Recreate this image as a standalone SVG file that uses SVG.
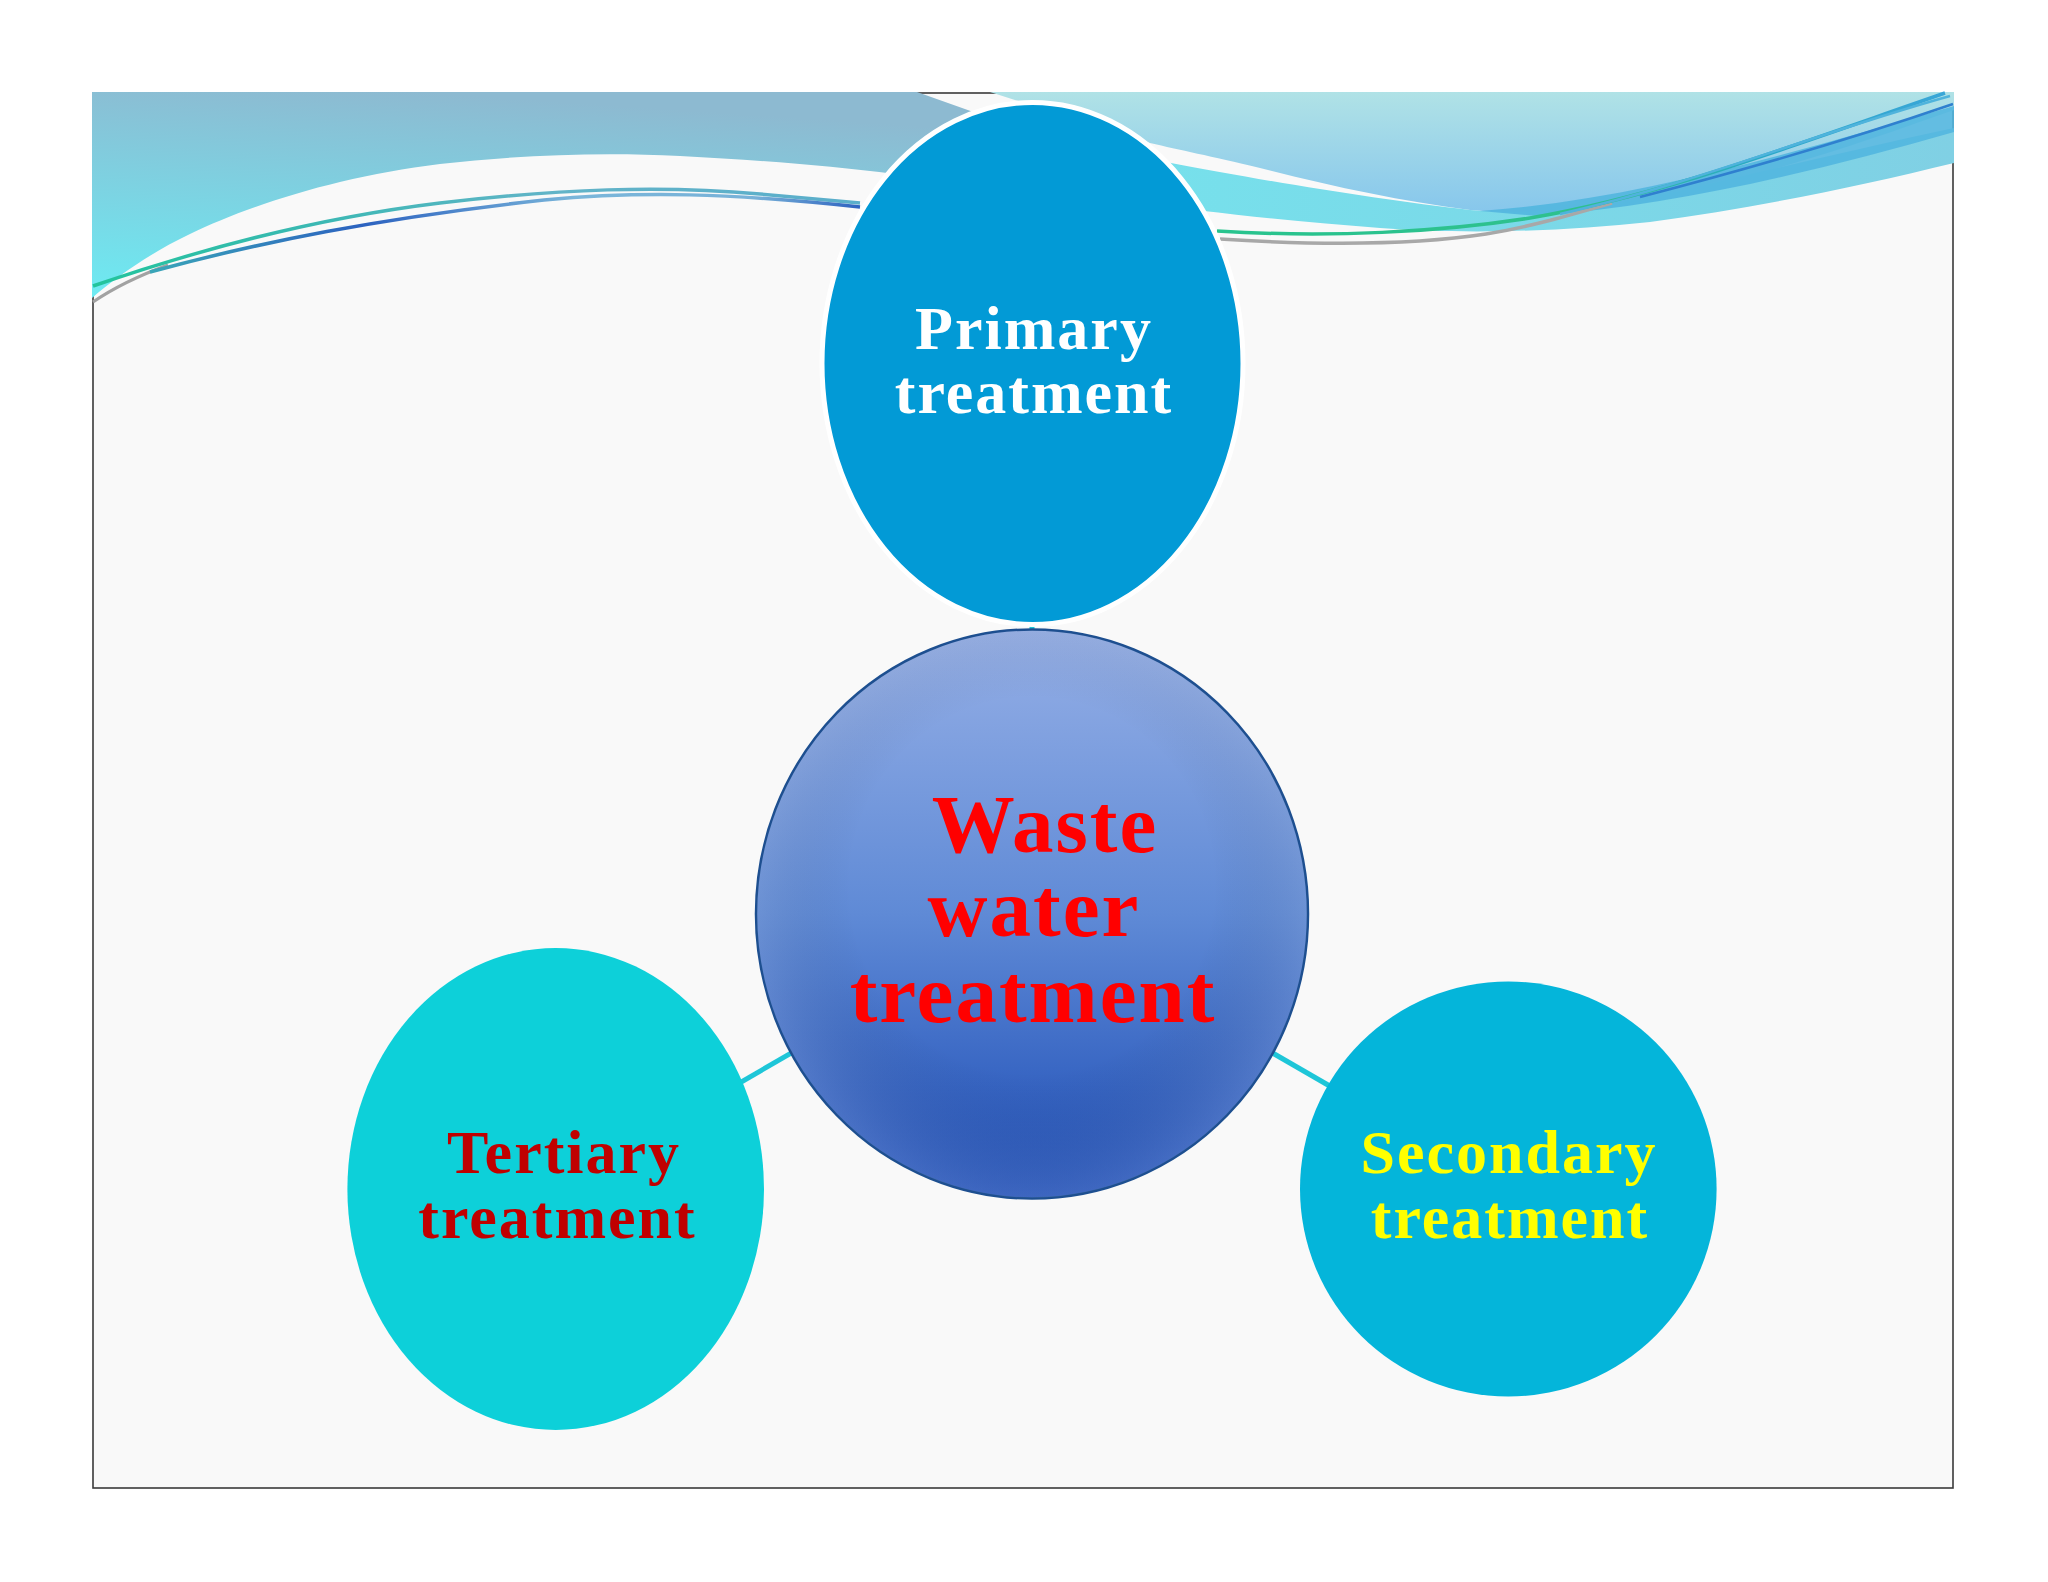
<svg xmlns="http://www.w3.org/2000/svg" width="2048" height="1582" viewBox="0 0 2048 1582">
  <style>
    .lbl { font-family: "Liberation Serif", "DejaVu Serif", serif; font-weight: bold; text-anchor: middle; }
    .small { font-size: 62px; letter-spacing: 2px; }
    .big { font-size: 83px; letter-spacing: 2px; }
    .conn { stroke: #1ec6d8; stroke-width: 5; fill: none; }
  </style>
  <defs>
    <linearGradient id="gLeftBand" x1="0.35" y1="0" x2="0.05" y2="1">
      <stop offset="0" stop-color="#8dbad1"/>
      <stop offset="1" stop-color="#6deaf2"/>
    </linearGradient>
    <linearGradient id="gRightTop" x1="0" y1="0" x2="0" y2="1">
      <stop offset="0" stop-color="#b0e2e6"/>
      <stop offset="1" stop-color="#86c6ec"/>
    </linearGradient>
    <linearGradient id="gCyanBand" x1="0" y1="0" x2="1" y2="0">
      <stop offset="0" stop-color="#76e1ec"/>
      <stop offset="1" stop-color="#80d0e4"/>
    </linearGradient>
    <linearGradient id="gCenter" x1="0" y1="0" x2="0" y2="1">
      <stop offset="0" stop-color="#95afe6"/>
      <stop offset="0.5" stop-color="#5f8ad6"/>
      <stop offset="1" stop-color="#1b4bb5"/>
    </linearGradient>
    <radialGradient id="gCenterShade" cx="0.5" cy="0.45" r="0.55">
      <stop offset="0.6" stop-color="#000000" stop-opacity="0"/>
      <stop offset="1" stop-color="#ffffff" stop-opacity="0.15"/>
    </radialGradient>
    <linearGradient id="gLineTeal" gradientUnits="userSpaceOnUse" x1="93" y1="0" x2="860" y2="0">
      <stop offset="0" stop-color="#22c49c"/>
      <stop offset="0.3" stop-color="#3cb8b4"/>
      <stop offset="0.6" stop-color="#62b4c8"/>
      <stop offset="1" stop-color="#5aaecb"/>
    </linearGradient>
    <linearGradient id="gLineBlue" gradientUnits="userSpaceOnUse" x1="150" y1="0" x2="860" y2="0">
      <stop offset="0" stop-color="#3aa6b8"/>
      <stop offset="0.3" stop-color="#2c62c0"/>
      <stop offset="0.6" stop-color="#7ab6da"/>
      <stop offset="0.85" stop-color="#78b2d8"/>
      <stop offset="1" stop-color="#2e62c0"/>
    </linearGradient>
    <linearGradient id="gLineGreen" gradientUnits="userSpaceOnUse" x1="1217" y1="0" x2="1950" y2="0">
      <stop offset="0" stop-color="#28c48e"/>
      <stop offset="0.5" stop-color="#2fc08e"/>
      <stop offset="0.75" stop-color="#2aa8c8"/>
      <stop offset="1" stop-color="#3aa6d8"/>
    </linearGradient>
  </defs>

  <!-- page -->
  <rect x="0" y="0" width="2048" height="1582" fill="#ffffff"/>
  <rect id="slide" x="93" y="93" width="1860" height="1395" fill="#f9f9f9" stroke="#3a3a3a" stroke-width="1.6"/>

  <!-- header waves -->
  <g id="header">
    <path d="M92,92 L917,92 L1010,125 L960,176 L895,174 C830,166 760,160 680,156 C600,152 520,155 440,164 C340,176 250,205 190,234 C150,253 115,278 92,298 Z" fill="url(#gLeftBand)"/>
    <path d="M990,92 L1954,92 L1954,110 C1840,150 1700,200 1537,215 L1470,210 C1400,201 1330,186 1260,168 C1210,156 1180,150 1150,143 Z" fill="url(#gRightTop)"/>
    <path d="M1120,150 L1171,163 C1260,180 1380,200 1470,210 C1540,216 1620,205 1700,186 C1790,165 1870,146 1954,128 L1954,163 C1860,186 1760,207 1650,222 C1560,232 1460,234 1380,228 C1300,222 1220,214 1120,200 Z" fill="url(#gCyanBand)"/>
    <path d="M1480,211 C1640,200 1800,150 1954,106 L1954,132 C1820,170 1680,205 1537,216 Z" fill="#52b6df" opacity="0.9"/>
    <!-- thin lines left -->
    <path d="M93,302 C112,289 135,277 168,265" stroke="#a2a2a2" stroke-width="3" fill="none"/>
    <path d="M93,286 C180,256 300,220 440,203 C560,189 660,185 760,194 L860,203" stroke="url(#gLineTeal)" stroke-width="3.5" fill="none"/>
    <path d="M150,272 C260,242 380,218 544,200 C640,191 730,193 860,207" stroke="url(#gLineBlue)" stroke-width="3.5" fill="none"/>
    <!-- thin lines right -->
    <path d="M1220,239 C1330,246 1420,244 1486,234 C1530,227 1570,215 1612,203" stroke="#a8a8a8" stroke-width="3.5" fill="none"/>
    <path d="M1217,231 C1330,238 1440,232 1530,218 C1660,196 1780,150 1945,93" stroke="url(#gLineGreen)" stroke-width="3.5" fill="none"/>
    <path d="M1560,214 C1700,182 1820,132 1950,96" stroke="#4fb3dc" stroke-width="2.5" fill="none"/>
    <path d="M1640,197 C1760,166 1860,136 1953,104" stroke="#2f80cf" stroke-width="2.5" fill="none"/>
  </g>

  <!-- connectors -->
  <g id="connectors">
    <line class="conn" x1="1032" y1="914" x2="1032" y2="363"/>
    <line class="conn" x1="1032" y1="914" x2="556" y2="1189"/>
    <line class="conn" x1="1032" y1="914" x2="1508" y2="1189"/>
  </g>

  <!-- nodes -->
  <g id="node-primary">
    <ellipse cx="1032.5" cy="363.5" rx="210.5" ry="261" fill="#029ad6" stroke="#ffffff" stroke-width="5"/>
    <text class="lbl small" x="1034" y="349" fill="#ffffff">Primary</text>
    <text class="lbl small" x="1034" y="413" fill="#ffffff">treatment</text>
  </g>

  <g id="node-center">
    <ellipse cx="1032" cy="914" rx="276" ry="284.5" fill="url(#gCenter)" stroke="#1d4f90" stroke-width="2.5"/>
    <ellipse cx="1032" cy="914" rx="275" ry="283.5" fill="url(#gCenterShade)"/>
    <text class="lbl big" x="1045" y="852" fill="#ff0000">Waste</text>
    <text class="lbl big" x="1034" y="936" fill="#ff0000">water</text>
    <text class="lbl big" x="1033" y="1022" fill="#ff0000">treatment</text>
  </g>

  <g id="node-tertiary">
    <ellipse cx="555.7" cy="1189" rx="208.3" ry="241" fill="#0dd0d9"/>
    <text class="lbl small" x="564" y="1173" fill="#c00000">Tertiary</text>
    <text class="lbl small" x="557.5" y="1238" fill="#c00000">treatment</text>
  </g>

  <g id="node-secondary">
    <ellipse cx="1508.3" cy="1189" rx="208.3" ry="207.5" fill="#04b5da"/>
    <text class="lbl small" x="1509" y="1173" fill="#ffff00">Secondary</text>
    <text class="lbl small" x="1510" y="1238" fill="#ffff00">treatment</text>
  </g>
</svg>
